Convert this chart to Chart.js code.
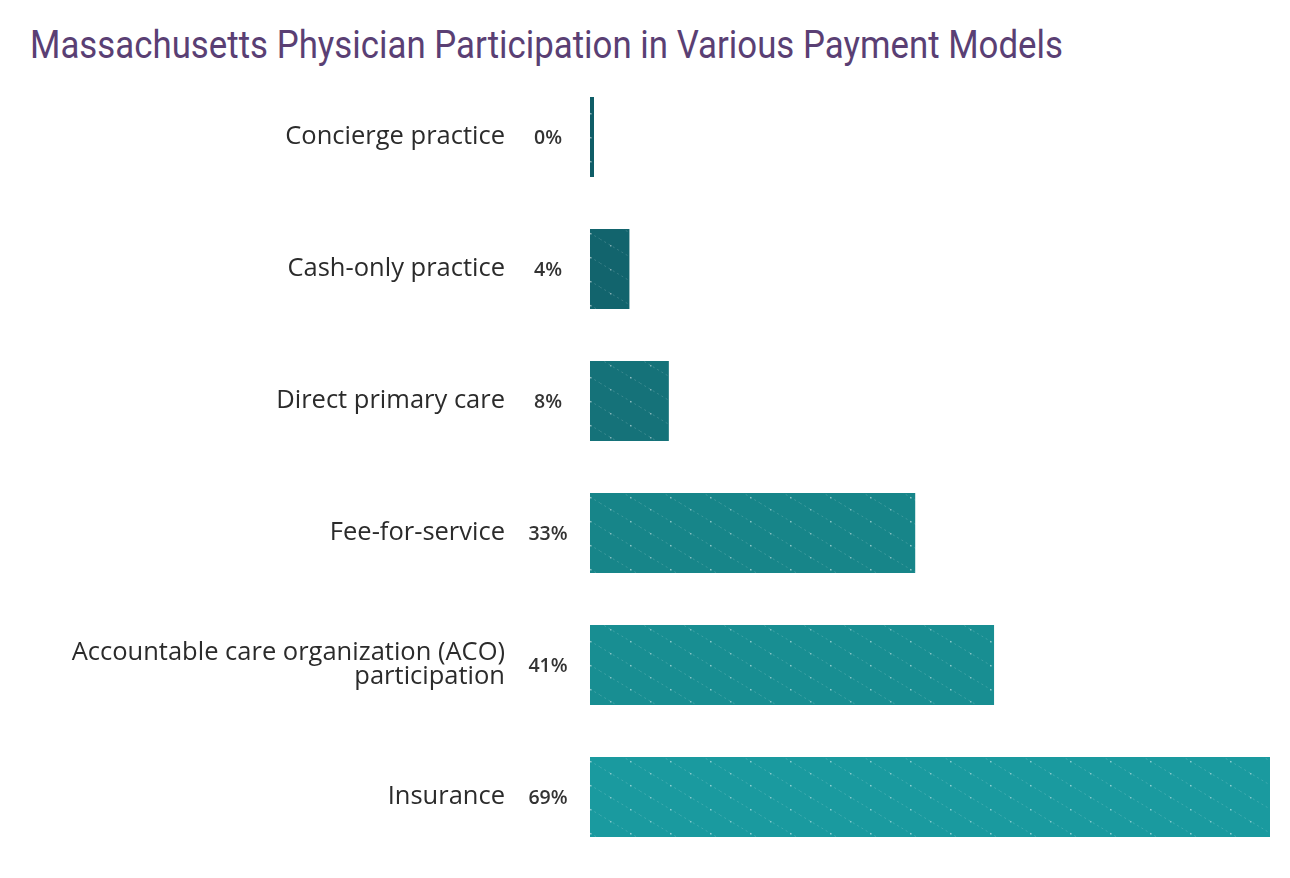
<!DOCTYPE html>
<html>
<head>
<meta charset="utf-8">
<script src="https://cdn.jsdelivr.net/npm/chart.js@4"></script>
<style>
  html, body { margin: 0; padding: 0; background: #fff; }
  body { width: 1290px; height: 878px; position: relative; overflow: hidden; }
  #title {
    position: absolute; left: 30px; top: 22px;
    font-family: Roboto, sans-serif; font-size: 39px; color: #5a3f74;
    transform: scaleX(0.893); transform-origin: left top; white-space: nowrap;
  }
  #chart { position: absolute; left: 0; top: 71px; }
</style>
</head>
<body>
<div id="title">Massachusetts Physician Participation in Various Payment Models</div>
<canvas id="chart" width="1290" height="792"></canvas>
<script>
const categories = [
    'Concierge practice',
    'Cash-only practice',
    'Direct primary care',
    'Fee-for-service',
    ['Accountable care organization (ACO)', 'participation'],
    'Insurance'
];
const values = [0, 4, 8, 33, 41, 69];
const barColors = ['#0f5d67', '#12646d', '#157279', '#178589', '#188e92', '#1a9a9f'];

// faint dotted diagonal texture like the original
function makePattern(color) {
    const c = document.createElement('canvas');
    c.width = 40; c.height = 24;
    const g = c.getContext('2d');
    g.fillStyle = color;
    g.fillRect(0, 0, 40, 24);
    g.strokeStyle = 'rgba(255,255,255,0.16)';
    g.lineWidth = 1;
    g.setLineDash([2, 3]);
    for (let k = -1; k <= 1; k++) {
        g.beginPath();
        g.moveTo(k * 40, 0);
        g.lineTo(k * 40 + 40, 24);
        g.stroke();
    }
    g.setLineDash([]);
    g.fillStyle = 'rgba(255,255,255,0.45)';
    g.fillRect(10, 6, 1.5, 1.5);
    g.fillRect(30, 18, 1.5, 1.5);
    return g.createPattern(c, 'repeat');
}

const valueLabels = {
    id: 'valueLabels',
    afterDatasetsDraw(chart) {
        const ctx = chart.ctx;
        const meta = chart.getDatasetMeta(0);
        ctx.save();
        ctx.font = '600 19.5px "Open Sans", sans-serif';
        ctx.fillStyle = '#333';
        ctx.textAlign = 'center';
        ctx.textBaseline = 'middle';
        meta.data.forEach((bar, i) => {
            ctx.fillText(values[i] + '%', chart.chartArea.left - 42, bar.y + 1);
        });
        ctx.restore();
    }
};

new Chart(document.getElementById('chart'), {
    type: 'bar',
    data: {
        labels: categories,
        datasets: [{
            data: values,
            backgroundColor: barColors.map(makePattern),
            borderWidth: 0,
            minBarLength: 4,
            categoryPercentage: 1,
            barPercentage: 0.606
        }]
    },
    options: {
        indexAxis: 'y',
        responsive: false,
        animation: false,
        layout: { padding: { left: 0, right: 20, top: 0, bottom: 0 } },
        scales: {
            x: { display: false, min: 0, max: 69 },
            y: {
                grid: { display: false, drawTicks: false },
                border: { display: false },
                ticks: {
                    color: '#2b2b2b',
                    padding: 85,
                    font: { family: 'Open Sans', size: 25.5, lineHeight: 0.95 }
                },
                afterFit(scale) {
                    scale.width = 590;
                    scale.paddingTop = 0;
                    scale.paddingBottom = 0;
                }
            }
        },
        plugins: {
            legend: { display: false },
            tooltip: { enabled: false }
        }
    },
    plugins: [valueLabels]
});
</script>
</body>
</html>
